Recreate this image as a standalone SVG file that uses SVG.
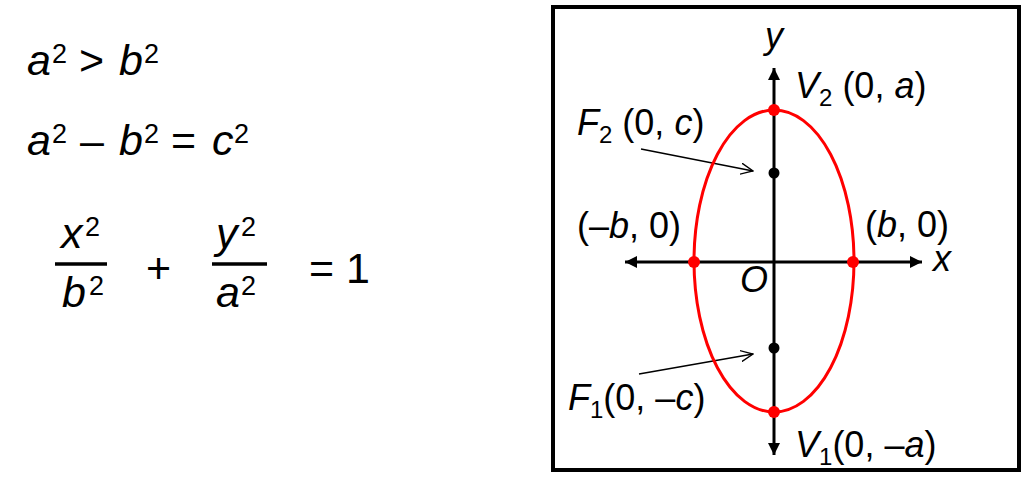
<svg xmlns="http://www.w3.org/2000/svg" width="1024" height="490" viewBox="0 0 1024 490">
<style>
text{font-family:"Liberation Sans",Arial,sans-serif;font-size:36px;fill:#000}
.e{font-size:43px}
.i{font-style:italic}
.s{font-size:24px}
.e .s{font-size:27px}
.axis{stroke:#000;stroke-width:3;fill:none}
.lead{stroke:#000;stroke-width:1.5;fill:none}
.bar{stroke:#000;stroke-width:3.5}
</style>
<defs>
<marker id="ah" viewBox="0 0 10 10" refX="10" refY="5" markerWidth="4.5" markerHeight="4" orient="auto" markerUnits="strokeWidth">
<path d="M0,0 L10,5 L0,10 z" fill="#000"/>
</marker>
<marker id="open" viewBox="0 0 12 10" refX="11" refY="5" markerWidth="9" markerHeight="8" orient="auto" markerUnits="strokeWidth">
<path d="M0,0 L11,5 L0,10" fill="none" stroke="#000" stroke-width="1.2"/>
</marker>
</defs>
<rect width="1024" height="490" fill="#fff"/>
<g id="equations">
<text class="e" y="75"><tspan class="i" x="27">a</tspan><tspan class="s" x="52" y="63">2</tspan><tspan x="79" y="75">&gt;</tspan><tspan class="i" x="119">b</tspan><tspan class="s" x="144" y="63">2</tspan></text>
<text class="e" y="155"><tspan class="i" x="27">a</tspan><tspan class="s" x="52" y="143">2</tspan><tspan x="80" y="155">–</tspan><tspan class="i" x="119">b</tspan><tspan class="s" x="144" y="143">2</tspan><tspan x="171" y="155">=</tspan><tspan class="i" x="212">c</tspan><tspan class="s" x="234" y="143">2</tspan></text>
<text class="e" y="248"><tspan class="i" x="61">x</tspan><tspan class="s" x="85" y="236">2</tspan></text>
<line class="bar" x1="55" y1="264" x2="107" y2="264"/>
<text class="e" y="307"><tspan class="i" x="62">b</tspan><tspan class="s" x="89" y="295">2</tspan></text>
<text class="e" x="146" y="283">+</text>
<text class="e" y="248"><tspan class="i" x="216">y</tspan><tspan class="s" x="241" y="236">2</tspan></text>
<line class="bar" x1="212" y1="264" x2="267" y2="264"/>
<text class="e" y="307"><tspan class="i" x="216">a</tspan><tspan class="s" x="241" y="295">2</tspan></text>
<text class="e" y="283"><tspan x="309">=</tspan><tspan x="346">1</tspan></text>
</g>
<g id="frame">
<rect x="553" y="7" width="466" height="463" fill="none" stroke="#000" stroke-width="4"/>
</g>
<g id="connectors">
<line class="axis" x1="774" y1="262" x2="774" y2="68" marker-end="url(#ah)"/>
<line class="axis" x1="774" y1="262" x2="774" y2="455" marker-end="url(#ah)"/>
<line class="axis" x1="774" y1="262" x2="922" y2="262" marker-end="url(#ah)"/>
<line class="axis" x1="774" y1="262" x2="625" y2="262" marker-end="url(#ah)"/>
<line class="lead" x1="641" y1="149" x2="753" y2="171" marker-end="url(#open)"/>
<line class="lead" x1="639" y1="374" x2="753" y2="354" marker-end="url(#open)"/>
</g>
<g id="ellipse">
<ellipse cx="774" cy="261" rx="80" ry="151" fill="none" stroke="#f00" stroke-width="3"/>
</g>
<g id="V2"><circle cx="774" cy="110" r="6" fill="#f00"/>
<text x="795" y="98"><tspan class="i">V</tspan><tspan class="s" dy="8">2</tspan><tspan dy="-8"> (0, </tspan><tspan class="i">a</tspan>)</text></g>
<g id="V1"><circle cx="774" cy="412" r="6" fill="#f00"/>
<text x="795" y="457"><tspan class="i">V</tspan><tspan class="s" dy="8">1</tspan><tspan dy="-8">(0, –</tspan><tspan class="i">a</tspan>)</text></g>
<g id="Bneg"><circle cx="694" cy="262" r="6" fill="#f00"/>
<text x="577" y="238">(–<tspan class="i">b</tspan>, 0)</text></g>
<g id="Bpos"><circle cx="853" cy="262" r="6" fill="#f00"/>
<text x="865" y="237">(<tspan class="i">b</tspan>, 0)</text></g>
<g id="F2"><circle cx="774" cy="173" r="5.5" fill="#000"/>
<text x="577" y="135"><tspan class="i">F</tspan><tspan class="s" dy="8">2</tspan><tspan dy="-8"> (0, </tspan><tspan class="i">c</tspan>)</text></g>
<g id="F1"><circle cx="774" cy="348" r="5.5" fill="#000"/>
<text x="568" y="410"><tspan class="i">F</tspan><tspan class="s" dy="8">1</tspan><tspan dy="-8">(0, –</tspan><tspan class="i">c</tspan>)</text></g>
<g id="labels">
<text class="i" x="765" y="48">y</text>
<text class="i" x="933" y="271">x</text>
<text class="i" x="740" y="292">O</text>
</g>
</svg>
